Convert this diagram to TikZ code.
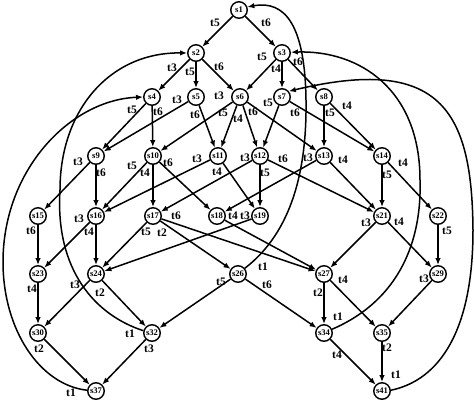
\documentclass[tikz,border=0pt]{standalone}
\usepackage{fontspec}
\setmainfont{Liberation Serif}
\usetikzlibrary{arrows.meta}
\tikzset{
  st/.style={circle,draw,line width=1.4pt,minimum size=16.5pt,inner sep=0pt,font=\fontsize{8.6}{8.6}\selectfont\bfseries},
  arr/.style={line width=1.5pt,-{Latex[length=7pt,width=5.5pt]}},
  lb/.style={inner sep=0pt,font=\fontsize{11.5}{11.5}\selectfont\bfseries}
}
\begin{document}
\begin{tikzpicture}[x=1pt,y=-1pt]
\useasboundingbox (0,0) rectangle (474,400);
% states
\node[st] (s1) at (239,10) {s1};
\node[st] (s2) at (196,53) {s2};
\node[st] (s3) at (282,53) {s3};
\node[st] (s4) at (152,97) {s4};
\node[st] (s5) at (196,97) {s5};
\node[st] (s6) at (240,97) {s6};
\node[st] (s7) at (282,97) {s7};
\node[st] (s8) at (324,97) {s8};
\node[st] (s9) at (96,156) {s9};
\node[st] (s10) at (153,156) {s10};
\node[st] (s11) at (218,156) {s11};
\node[st] (s12) at (260,156) {s12};
\node[st] (s13) at (324,156) {s13};
\node[st] (s14) at (382,156) {s14};
\node[st] (s15) at (38,216) {s15};
\node[st] (s16) at (96,216) {s16};
\node[st] (s17) at (153,216) {s17};
\node[st] (s18) at (217,216) {s18};
\node[st] (s19) at (260,216) {s19};
\node[st] (s21) at (382,216) {s21};
\node[st] (s22) at (438,216) {s22};
\node[st] (s23) at (38,274) {s23};
\node[st] (s24) at (96,274) {s24};
\node[st] (s26) at (238,274) {s26};
\node[st] (s27) at (324,274) {s27};
\node[st] (s29) at (438,274) {s29};
\node[st] (s30) at (38,333) {s30};
\node[st] (s32) at (152,333) {s32};
\node[st] (s34) at (324,333) {s34};
\node[st] (s35) at (382,333) {s35};
\node[st] (s37) at (96,391) {s37};
\node[st] (s41) at (382,391) {s41};
% straight edges
\foreach \a/\b in {s1/s2,s1/s3,s2/s4,s2/s5,s2/s6,s3/s6,s3/s7,s3/s8,
  s4/s9,s4/s10,s5/s9,s5/s11,s6/s10,s6/s11,s6/s12,s6/s13,s7/s12,s7/s14,s8/s13,s8/s14,
  s9/s15,s9/s16,s10/s16,s10/s17,s10/s18,s11/s16,s11/s19,s12/s17,s12/s19,s12/s21,s13/s18,s13/s21,s14/s21,s14/s22,
  s15/s23,s16/s23,s16/s24,s17/s24,s17/s26,s17/s27,s18/s27,s19/s24,s21/s27,s21/s29,s22/s29,
  s23/s30,s24/s30,s24/s32,s26/s32,s26/s34,s27/s34,s27/s35,s29/s35,
  s30/s37,s32/s37,s34/s41,s35/s41}
  \draw[arr] (\a) -- (\b);
% back arcs (t1)
\draw[arr] (s26.40) .. controls (292,232) and (307,170) .. (306,100) .. controls (305,25) and (285,0) .. (s1.20);
\draw[arr] (s32.165) .. controls (95,315) and (55,270) .. (60,190) .. controls (60,110) and (110,52) .. (s2.west);
\draw[arr] (s37.175) .. controls (40,385) and (3,330) .. (3,262) .. controls (3,170) and (70,100) .. (s4.west);
\draw[arr] (s34.25) .. controls (400,300) and (422,240) .. (420,180) .. controls (420,90) and (360,50) .. (s3.5);
\draw[arr] (s41.5) .. controls (440,380) and (473,330) .. (473,230) .. controls (472,110) and (440,55) .. (s7.40);
% labels
\node[lb] (l1) at (215,23) {t5};
\node[lb] (l2) at (266,23) {t6};
\node[lb] (l3) at (172,68) {t3};
\node[lb] (l4) at (190,72) {t5};
\node[lb] (l5) at (219,67) {t6};
\node[lb] (l6) at (262,57) {t5};
\node[lb] (l7) at (276,69) {t4};
\node[lb] (l8) at (298,62) {t6};
\node[lb] (l9) at (132,110) {t5};
\node[lb] (l10) at (158,112) {t6};
\node[lb] (l11) at (177,100) {t3};
\node[lb] (l12) at (195,115) {t6};
\node[lb] (l13) at (219,96) {t3};
\node[lb] (l14) at (223,113) {t5};
\node[lb] (l15) at (238,119) {t4};
\node[lb] (l16) at (253,112) {t6};
\node[lb] (l17) at (268,103) {t5};
\node[lb] (l18) at (295,113) {t6};
\node[lb] (l19) at (330,113) {t5};
\node[lb] (l20) at (347,106) {t4};
\node[lb] (l21) at (78,162) {t3};
\node[lb] (l22) at (101,173) {t6};
\node[lb] (l23) at (132,166) {t5};
\node[lb] (l24) at (145,173) {t4};
\node[lb] (l25) at (168,163) {t6};
\node[lb] (l26) at (197,159) {t3};
\node[lb] (l27) at (217,172) {t4};
\node[lb] (l28) at (245,158) {t3};
\node[lb] (l29) at (265,173) {t5};
\node[lb] (l30) at (283,159) {t6};
\node[lb] (l31) at (308,158) {t3};
\node[lb] (l32) at (343,160) {t4};
\node[lb] (l33) at (387,175) {t5};
\node[lb] (l34) at (403,163) {t4};
\node[lb] (l35) at (31,231) {t6};
\node[lb] (l36) at (79,219) {t3};
\node[lb] (l37) at (89,232) {t4};
\node[lb] (l38) at (146,232) {t5};
\node[lb] (l39) at (162,233) {t2};
\node[lb] (l40) at (176,216) {t6};
\node[lb] (l41) at (233,216) {t4};
\node[lb] (l42) at (245,216) {t3};
\node[lb] (l43) at (366,223) {t3};
\node[lb] (l44) at (399,222) {t4};
\node[lb] (l45) at (447,231) {t5};
\node[lb] (l46) at (32,289) {t4};
\node[lb] (l47) at (75,285) {t3};
\node[lb] (l48) at (100,293) {t2};
\node[lb] (l49) at (221,282) {t5};
\node[lb] (l50) at (267,285) {t6};
\node[lb] (l51) at (263,267) {t1};
\node[lb] (l52) at (318,293) {t2};
\node[lb] (l53) at (343,280) {t4};
\node[lb] (l54) at (424,279) {t3};
\node[lb] (l55) at (39,349) {t2};
\node[lb] (l56) at (149,349) {t3};
\node[lb] (l57) at (130,334) {t1};
\node[lb] (l58) at (337,355) {t4};
\node[lb] (l59) at (338,317) {t1};
\node[lb] (l60) at (387,348) {t2};
\node[lb] (l61) at (71,393) {t1};
\node[lb] (l62) at (396,375) {t1};
\end{tikzpicture}
\end{document}
